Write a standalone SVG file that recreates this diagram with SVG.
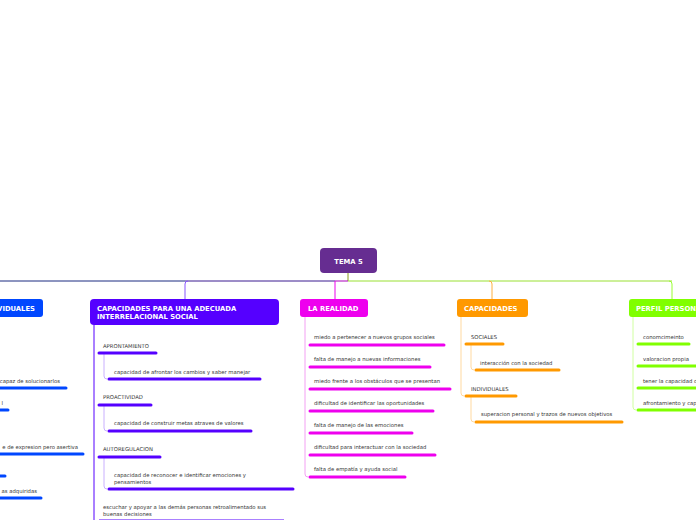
<svg xmlns="http://www.w3.org/2000/svg" width="696" height="520" viewBox="0 0 696 520">
<style>
.t{font-family:"DejaVu Sans",Verdana,sans-serif;font-size:5.3px;fill:#333}
.h{font-family:"DejaVu Sans",Verdana,sans-serif;font-size:6.8px;font-weight:bold;fill:#fff}
.u{stroke-width:3;stroke-linecap:round;fill:none}
.c{fill:none;stroke-width:1}
</style>
<rect width="696" height="520" fill="#fff"/>
<g id="connectors">
<path class="c" d="M348 273V281" stroke="#8a9a1a"/>
<path class="c" d="M0 281H185" stroke="#1a2a80"/>
<path class="c" d="M185 281H335" stroke="#3a1a90"/>
<path class="c" d="M335 281H348" stroke="#aa00bb"/>
<path class="c" d="M348 281H672" stroke="#99e033"/>
<path class="c" d="M185 299V284Q185 281 188 281" stroke="#8855ff"/>
<path class="c" d="M335 299V281" stroke="#ee00ee"/>
<path class="c" d="M492 299V284Q492 281 489 281" stroke="#ffb040"/>
<path class="c" d="M672 299V284Q672 281 669 281" stroke="#99ff33"/>
<path class="c" d="M94 325V520" stroke="#5500ff" stroke-width="2"/>
<path class="c" d="M104 353V376Q104 379 107 379" stroke="#c9b0ff"/>
<path class="c" d="M104 405V428Q104 431 107 431" stroke="#c9b0ff"/>
<path class="c" d="M104 457V486Q104 489 107 489" stroke="#c9b0ff"/>
<path class="c" d="M305 317V474Q305 477 308 477" stroke="#f3a0f3"/>
<path class="c" d="M461 317V393Q461 396 464 396" stroke="#ffd9a0"/>
<path class="c" d="M471 344V367Q471 370 474 370" stroke="#ffd9a0"/>
<path class="c" d="M471 396V419Q471 422 474 422" stroke="#ffd9a0"/>
<path class="c" d="M633 317V407Q633 410 636 410" stroke="#d0ffa0"/>
</g>
<g id="tema5"><rect x="320" y="248" width="57" height="25" rx="4" fill="#662d91"/><text class="h" x="348.5" y="264" text-anchor="middle" font-size="7.5">TEMA 5</text></g>
<g id="individuales">
<rect x="-30" y="299" width="73" height="18" rx="3" fill="#0047ff"/><text class="h" x="35" y="311" text-anchor="end">INDIVIDUALES</text>
<text class="t" x="60" y="383" text-anchor="end">capaz de solucionarlos</text><path class="u" stroke="#0047ff" d="M0 388H66"/>
<text class="t" x="3" y="405" text-anchor="end">l</text><path class="u" stroke="#0047ff" d="M0 410H8"/>
<text class="t" x="78" y="449" text-anchor="end">e de expresion pero asertiva</text><path class="u" stroke="#0047ff" d="M0 454H83"/>
<path class="u" stroke="#0047ff" d="M0 476H5"/>
<text class="t" x="37" y="493" text-anchor="end">as adquiridas</text><path class="u" stroke="#0047ff" d="M0 498H41"/>
</g>
<g id="capacidades-social">
<rect x="90" y="299" width="189" height="26" rx="4" fill="#5500ff"/>
<text class="h" x="97" y="311">CAPACIDADES PARA UNA ADECUADA</text><text class="h" x="97" y="319">INTERRELACIONAL SOCIAL</text>
<text class="t" x="103" y="348">APRONTAMIENTO</text><path class="u" stroke="#5500ff" d="M99 353H156"/>
<text class="t" x="114" y="374">capacidad de afrontar los cambios y saber manejar</text><path class="u" stroke="#5500ff" d="M109 379H260"/>
<text class="t" x="103" y="399">PROACTIVIDAD</text><path class="u" stroke="#5500ff" d="M99 405H151"/>
<text class="t" x="114" y="425">capacidad de construir metas atraves de valores</text><path class="u" stroke="#5500ff" d="M109 431H251"/>
<text class="t" x="103" y="451">AUTOREGULACION</text><path class="u" stroke="#5500ff" d="M99 457H160"/>
<text class="t" x="114" y="477">capacidad de reconocer e identificar emociones y</text><text class="t" x="114" y="483.5">pensamientos</text><path class="u" stroke="#5500ff" d="M109 489H293"/>
<text class="t" x="103" y="509">escuchar y apoyar a las demás personas retroalimentado sus</text><text class="t" x="103" y="515.5">buenas decisiones</text><path stroke="#5500ff" stroke-width="1" d="M99 520H284"/>
</g>
<g id="realidad">
<rect x="300" y="299" width="68" height="18" rx="3" fill="#ee00ee"/><text class="h" x="308" y="311">LA REALIDAD</text>
<text class="t" x="314" y="339">miedo a pertenecer a nuevos grupos sociales</text><path class="u" stroke="#ee00ee" d="M310 345H444"/>
<text class="t" x="314" y="361">falta de manejo a nuevas informaciones</text><path class="u" stroke="#ee00ee" d="M310 367H430"/>
<text class="t" x="314" y="383">miedo frente a los obstáculos que se presentan</text><path class="u" stroke="#ee00ee" d="M310 389H450"/>
<text class="t" x="314" y="405">dificultad de identificar las oportunidades</text><path class="u" stroke="#ee00ee" d="M310 411H433"/>
<text class="t" x="314" y="427">falta de manejo de las emociones</text><path class="u" stroke="#ee00ee" d="M310 433H412"/>
<text class="t" x="314" y="449">dificultad para interactuar con la sociedad</text><path class="u" stroke="#ee00ee" d="M310 455H435"/>
<text class="t" x="314" y="471">falta de empatía y ayuda social</text><path class="u" stroke="#ee00ee" d="M310 477H405"/>
</g>
<g id="capacidades">
<rect x="457" y="299" width="71" height="18" rx="3" fill="#ff9900"/><text class="h" x="464" y="311">CAPACIDADES</text>
<text class="t" x="471" y="339">SOCIALES</text><path class="u" stroke="#ff9900" d="M466 344H503"/>
<text class="t" x="480" y="365">interacción con la sociedad</text><path class="u" stroke="#ff9900" d="M476 370H559"/>
<text class="t" x="471" y="391">INDIVIDUALES</text><path class="u" stroke="#ff9900" d="M466 396H516"/>
<text class="t" x="481" y="416">superacion personal y trazos de nuevos objetivos</text><path class="u" stroke="#ff9900" d="M476 422H622"/>
</g>
<g id="perfil">
<rect x="629" y="299" width="90" height="18" rx="3" fill="#80ff00"/><text class="h" x="636" y="311">PERFIL PERSONAL</text>
<text class="t" x="643" y="339">conomcimeinto</text><path class="u" stroke="#80ff00" d="M638 344H689"/>
<text class="t" x="643" y="361">valoracion propia</text><path class="u" stroke="#80ff00" d="M638 366H700"/>
<text class="t" x="643" y="383">tener la capacidad de</text><path class="u" stroke="#80ff00" d="M638 388H700"/>
<text class="t" x="643" y="405">afrontamiento y capacidad</text><path class="u" stroke="#80ff00" d="M638 410H700"/>
</g>
</svg>
